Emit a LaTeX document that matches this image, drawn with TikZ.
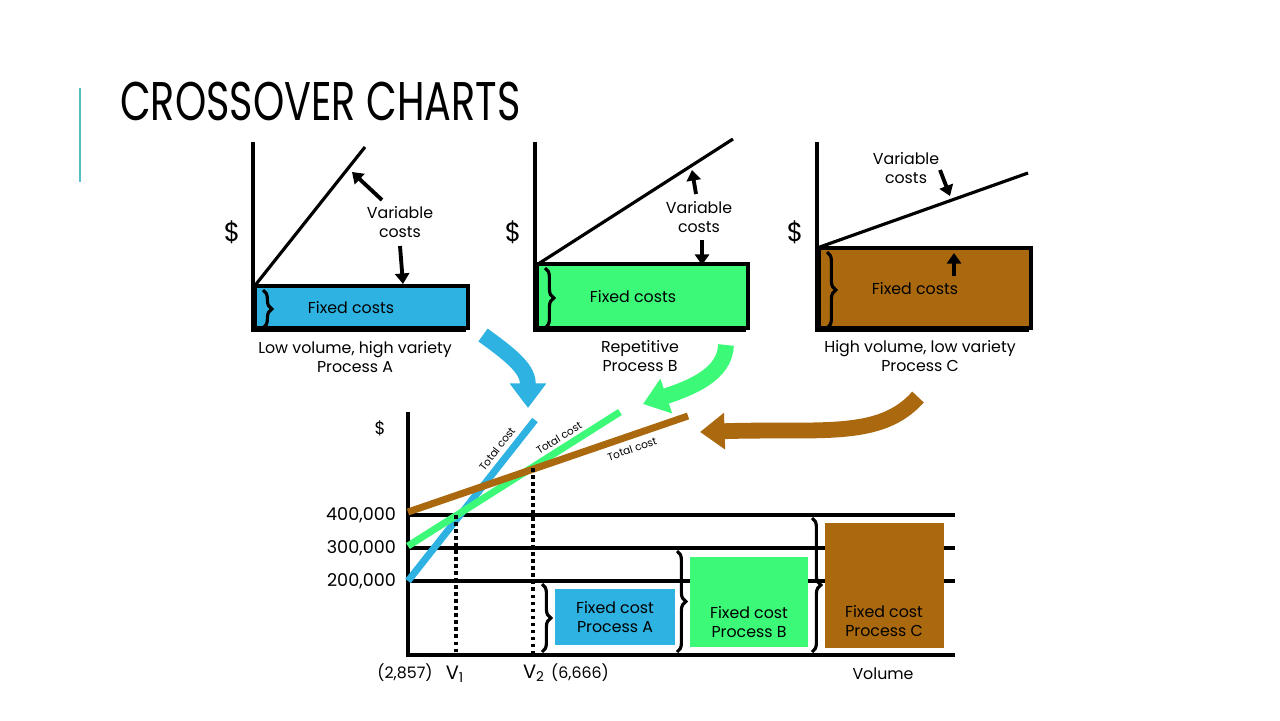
\documentclass[tikz,border=0pt]{standalone}
\usepackage{fontspec}
\setmainfont{Poppins}
\usetikzlibrary{arrows.meta,decorations.pathreplacing}
\definecolor{procA}{RGB}{45,178,225}
\definecolor{procB}{RGB}{60,250,120}
\definecolor{procC}{RGB}{170,105,15}
\definecolor{accent}{RGB}{90,190,200}

\begin{document}
\begin{tikzpicture}
[x=0.02cm,y=-0.02cm,
graph text/.style={font=\fontsize{9}{10.5}\selectfont, align=center, inner sep=0pt},
graph dollar/.style={font=\fontsize{15}{16}\selectfont, inner sep=0pt},
graph small/.style={font=\fontsize{6}{7}\selectfont, inner sep=0pt},
graph box/.style={draw=black, line width=2pt},
graph axis/.style={line width=1.8pt},
graph arrow/.style={line width=2.2pt, -{Triangle[length=6pt,width=8pt]}},
graph brace/.style={decorate, decoration={brace, amplitude=5pt}, line width=1.8pt},
graph flow/.style={line width=9pt, -{Triangle[length=14pt,width=20pt]}},
graph total/.style={line width=4pt}
]
\useasboundingbox (0,0) rectangle (1280,720);

% title
\draw[accent, line width=1.2pt] (80,88) -- (80,182);
\node[anchor=base west, inner sep=0pt, xscale=0.73, font=\fontsize{31}{34}\selectfont] (T) at (120,120) {CROSSOVER CHARTS};

% panel A
\fill[procA] (253,288) rectangle (466,330);
\node[graph box, minimum width=213*0.02cm, minimum height=42*0.02cm, anchor=south west] (FA) at (253,330) {};
\coordinate (A0) at (253,288);
\coordinate (A1) at (365,147);
\draw[graph axis] (253,142) -- (253,330) -- (466,330);
\draw[graph axis] (A0) -- (A1);
\node[graph dollar] (DA) at (232,232) {\$};
\node[graph text] (VA) at (400,222) {Variable\\costs};
\coordinate (VAt) at (352,172);
\coordinate (VAb) at (403,284);
\draw[graph arrow] (382,200) -- (VAt);
\draw[graph arrow] (400,246) -- (VAb);
\draw[graph brace] (263,290) -- (263,328);
\node[graph text] (FAt) at (351,308) {Fixed costs};
\node[graph text] (LA) at (355,357) {Low volume, high variety\\Process A};

% panel B
\fill[procB] (535,266) rectangle (746,330);
\node[graph box, minimum width=211*0.02cm, minimum height=64*0.02cm, anchor=south west] (FB) at (535,330) {};
\coordinate (B0) at (535,266);
\coordinate (B1) at (733,139);
\draw[graph axis] (535,142) -- (535,330) -- (746,330);
\draw[graph axis] (B0) -- (B1);
\node[graph dollar] (DB) at (513,232) {\$};
\node[graph text] (VB) at (699,217) {Variable\\costs};
\coordinate (VBt) at (692,170);
\coordinate (VBb) at (702,265);
\draw[graph arrow] (696,194) -- (VBt);
\draw[graph arrow] (702,240) -- (VBb);
\draw[graph brace] (545,268) -- (545,328);
\node[graph text] (FBt) at (633,297) {Fixed costs};
\node[graph text] (LB) at (640,356) {Repetitive\\Process B};

% panel C
\fill[procC] (817,250) rectangle (1029,330);
\node[graph box, minimum width=212*0.02cm, minimum height=80*0.02cm, anchor=south west] (FC) at (817,330) {};
\coordinate (C0) at (817,248);
\coordinate (C1) at (1028,173);
\draw[graph axis] (817,142) -- (817,330) -- (1029,330);
\draw[graph axis] (C0) -- (C1);
\node[graph dollar] (DC) at (795,232) {\$};
\node[graph text] (VC) at (906,168) {Variable\\costs};
\coordinate (VCb) at (950,196);
\coordinate (VCu) at (954,253);
\draw[graph arrow] (940,170) -- (VCb);
\draw[graph arrow] (954,276) -- (VCu);
\draw[graph brace] (827,252) -- (827,328);
\node[graph text] (FCt) at (915,289) {Fixed costs};
\node[graph text] (LC) at (920,356) {High volume, low variety\\Process C};

% flow arrows
\coordinate (GA) at (483,335);
\coordinate (HA) at (528,408);
\draw[graph flow, procA] (GA) .. controls (515,358) and (528,370) .. (HA);
\coordinate (GB) at (726,345);
\coordinate (HB) at (643,404);
\draw[graph flow, procB] (GB) .. controls (725,375) and (690,388) .. (HB);
\coordinate (GC) at (918,397);
\coordinate (HC) at (700,432);
\draw[graph flow, procC] (GC) .. controls (880,440) and (820,428) .. (HC);

% crossover chart
\coordinate (O) at (408,655);
\draw[graph axis] (408,412) -- (O) -- (955,655);
\foreach \yy/\lab in {515/400{,}000, 548/300{,}000, 581/200{,}000}
  \draw[graph axis] (408,\yy) -- (955,\yy) node[pos=0, left=6pt, graph text, font=\fontsize{10}{11}\selectfont] {\lab};
\node[graph text, font=\fontsize{10}{11}\selectfont] (DD) at (380,428) {\$};

\coordinate (TA0) at (408,581);
\coordinate (TA1) at (535,420);
\coordinate (TB0) at (408,546);
\coordinate (TB1) at (620,412);
\coordinate (TC0) at (408,512);
\coordinate (TC1) at (688,416);
\draw[graph total, procA] (TA0) -- (TA1);
\draw[graph total, procB] (TB0) -- (TB1);
\draw[graph total, procC] (TC0) -- (TC1);
\node[graph small, rotate=52] (LTA) at (497,449) {Total cost};
\node[graph small, rotate=32] (LTB) at (559,438) {Total cost};
\node[graph small, rotate=19] (LTC) at (632,449) {Total cost};

\draw[line width=2pt, dotted] (456,515) -- (456,655);
\draw[line width=2pt, dotted] (533,468) -- (533,655);

\node[graph text] (X1) at (405,673) {(2,857)};
\node[graph text, font=\fontsize{11}{12}\selectfont] (V1) at (455,674) {V\textsubscript{1}};
\node[graph text, font=\fontsize{11}{12}\selectfont] (V2) at (534,673) {V\textsubscript{2}};
\node[graph text] (X2) at (580,673) {(6,666)};
\node[graph text] (VOL) at (883,674) {Volume};

\fill[procA] (555,589) rectangle (675,645);
\fill[procB] (690,557) rectangle (808,647);
\fill[procC] (825,523) rectangle (944,648);
\node[graph text] (BA) at (615,617) {Fixed cost\\Process A};
\node[graph text] (BB) at (749,622) {Fixed cost\\Process B};
\node[graph text] (BC) at (884,621) {Fixed cost\\Process C};
\draw[graph brace] (542,584) -- (542,652);
\draw[graph brace] (677,551) -- (677,652);
\draw[graph brace] (812,518) -- (812,652);
\end{tikzpicture}
\end{document}
